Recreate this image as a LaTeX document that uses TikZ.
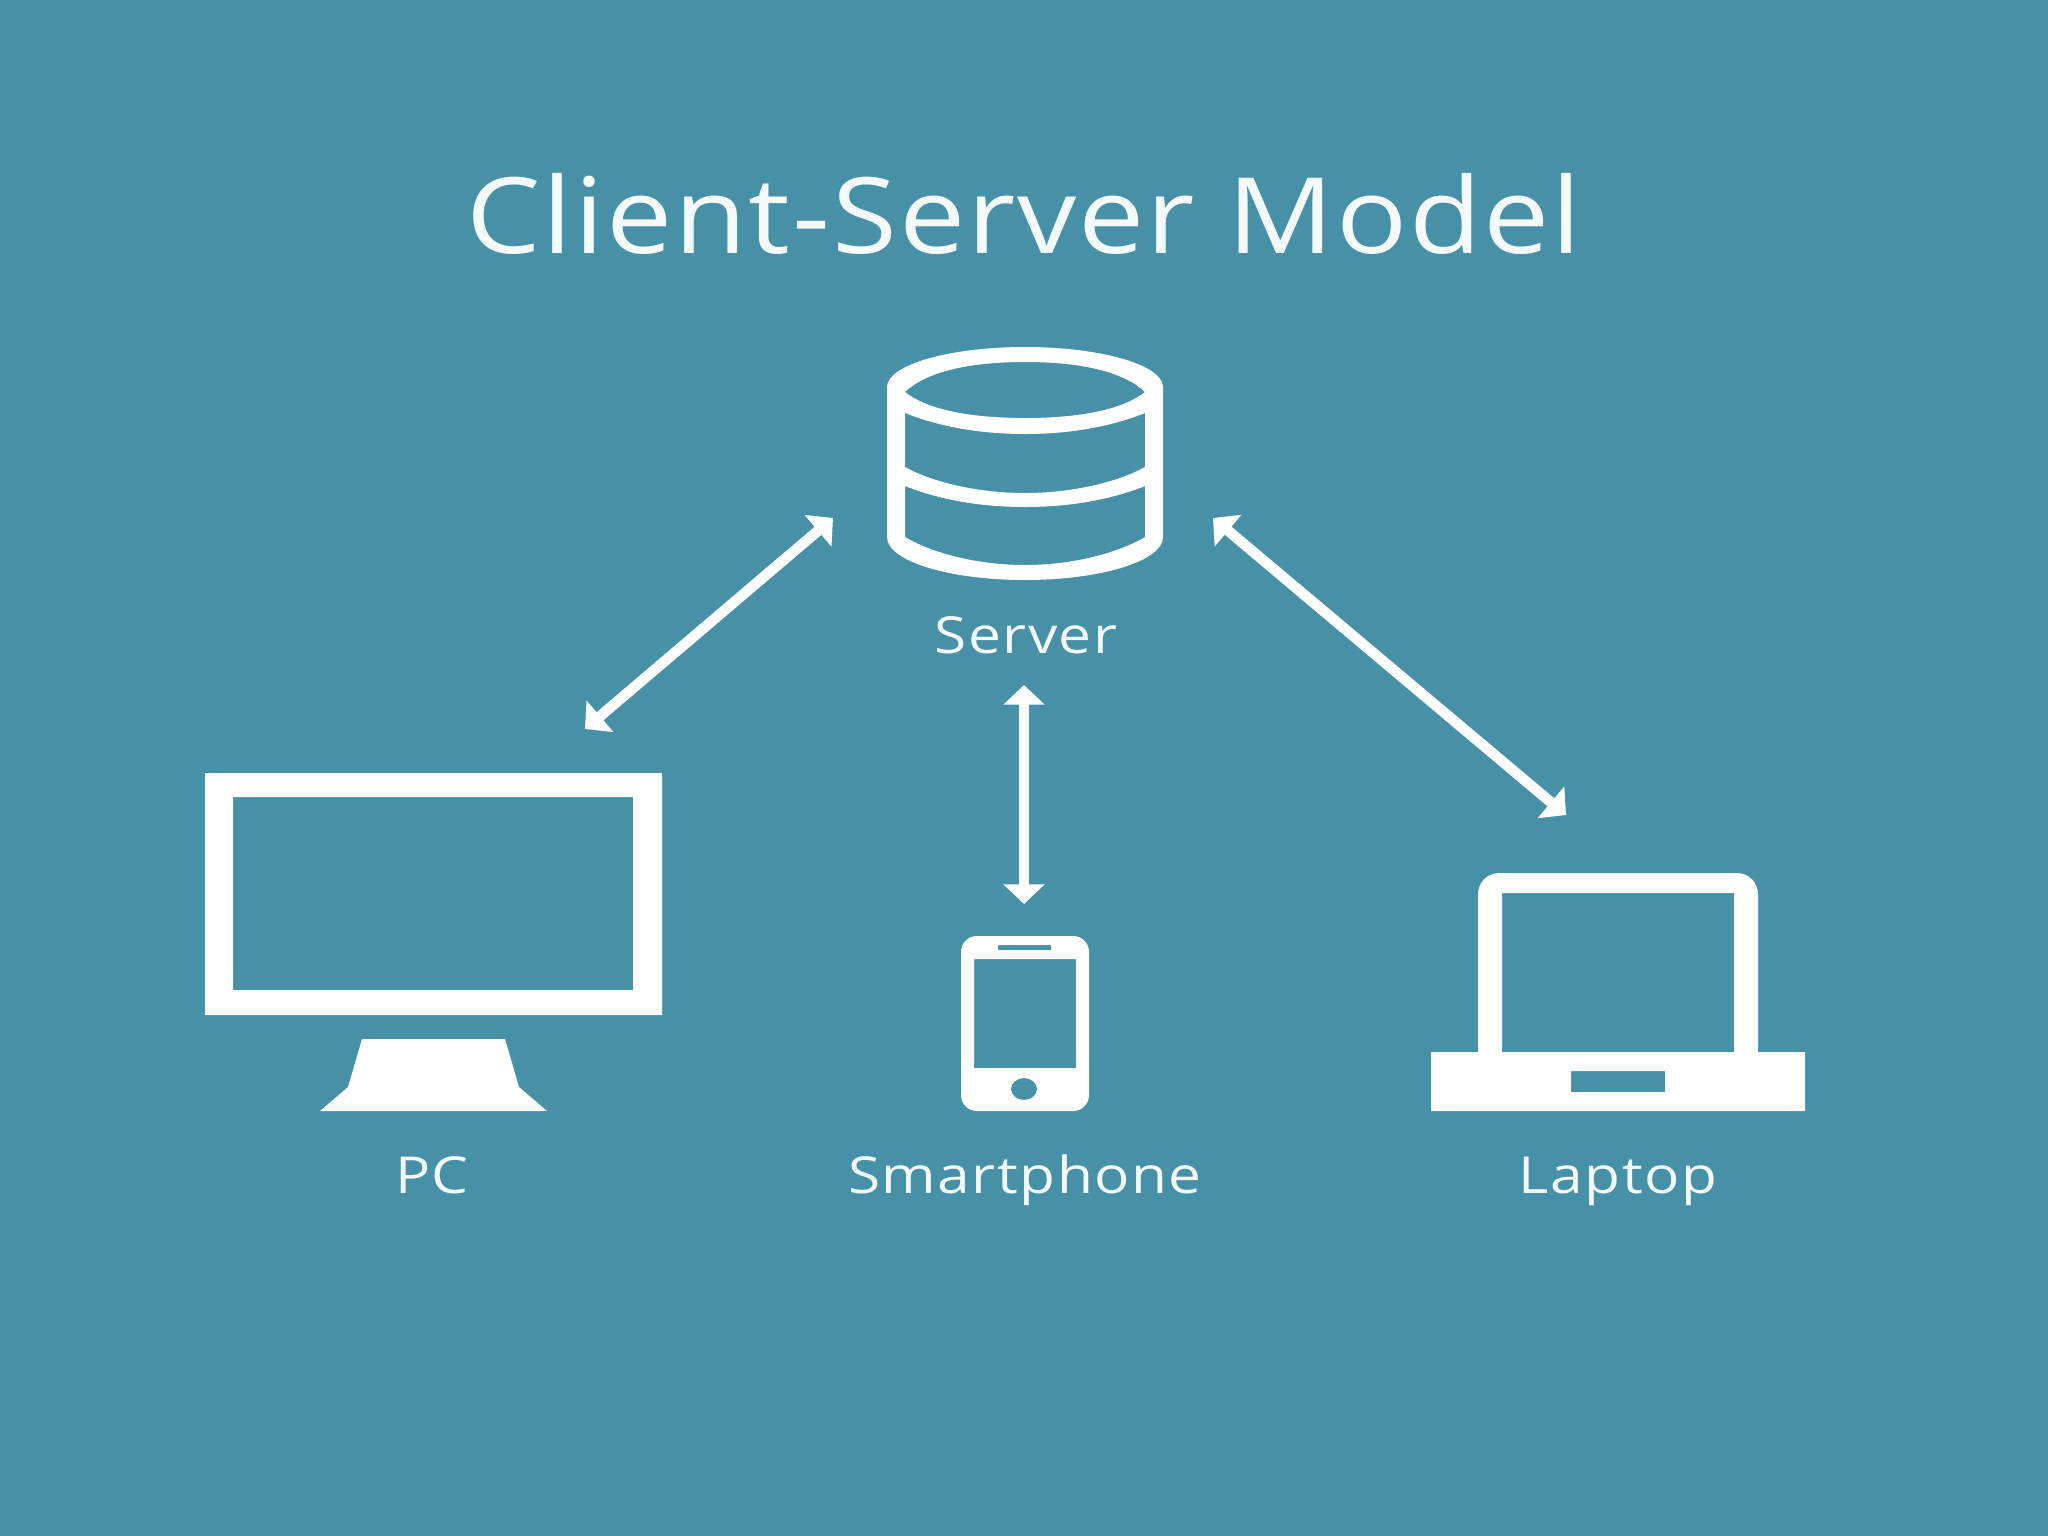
\documentclass[tikz,border=0pt]{standalone}
\usepackage{fontspec}
\setmainfont{Open Sans}
\newfontfamily\titlefont[FakeStretch=1.12,LetterSpace=1.8]{Open Sans}
\newfontfamily\labelfont[FakeStretch=1.15,LetterSpace=2.9]{Open Sans}
\usetikzlibrary{arrows.meta}
\definecolor{bgteal}{HTML}{4690A8}
\definecolor{textwhite}{HTML}{F4F9FA}
\tikzset{
  titlelabel/.style={anchor=base,inner sep=0pt,text=textwhite,font=\titlefont\fontsize{30}{36}\selectfont},
  devicelabel/.style={anchor=base,inner sep=0pt,text=textwhite,font=\labelfont\fontsize{14.5}{18}\selectfont},
  iconfill/.style={fill=white,even odd rule},
  link/.style={draw=white,line width=3pt,>={Triangle[length=5.6pt,width=11.5pt]},<->}
}
\begin{document}
\begin{tikzpicture}[x=0.01cm,y=-0.01cm]

\fill[bgteal] (0,0) rectangle (2048,1536); % background
\useasboundingbox (0,0) rectangle (2048,1536);

\node[titlelabel] (title) at (1024,253) {Client-Server Model}; % heading

% server
\path[iconfill] (887,387) .. controls (887,365) and (949,347) .. (1025,347) .. controls (1101,347) and (1163,365) .. (1163,387)
  --(1163,537) .. controls (1163,561) and (1101,580) .. (1025,580) .. controls (949,580) and (887,561) .. (887,537)--cycle
  (905,392) .. controls (925,373) and (965,362) .. (1025,362) .. controls (1085,362) and (1125,373) .. (1145,392)
  .. controls (1125,408) and (1085,418) .. (1025,418) .. controls (965,418) and (925,408) .. (905,392)--cycle
  (905,413) .. controls (935,425) and (975,434) .. (1025,434) .. controls (1075,434) and (1115,425) .. (1145,413)
  --(1145,467) .. controls (1120,481) and (1075,493) .. (1025,493) .. controls (975,493) and (930,481) .. (905,467)--cycle
  (905,486) .. controls (935,498) and (975,507) .. (1025,507) .. controls (1075,507) and (1115,498) .. (1145,486)
  --(1145,537) .. controls (1120,552) and (1075,565) .. (1025,565) .. controls (975,565) and (930,552) .. (905,537)--cycle;
\node[devicelabel] (server) at (1026,653) {Server};

% pc
\path[iconfill] (205,773) rectangle (662,1015) (233,797) rectangle (633,990);
\path[iconfill] (362,1039)--(505,1039)--(519,1087)--(547,1111)--(320,1111)--(348,1087)--cycle;
\node[devicelabel] (pc) at (432,1193) {PC};

% smartphone
\path[iconfill] [rounded corners=4.5pt] (961,936) rectangle (1089,1111) [sharp corners]
  (974,959) rectangle (1076,1068) (998,945) rectangle (1051,950)
  (1024,1089) ellipse [x radius=13,y radius=11];
\node[devicelabel] (phone) at (1025,1193) {Smartphone};

% laptop
\path[iconfill] (1431,1052)--(1478,1052) [rounded corners=6pt] --(1478,873)--(1758,873) [sharp corners] --(1758,1052)--(1805,1052)--(1805,1111)--(1431,1111)--cycle
  (1502,893) rectangle (1734,1052) (1571,1071) rectangle (1665,1092);
\node[devicelabel] (laptop) at (1618,1193) {Laptop};

% arrow ends
\coordinate (serverwest) at (833,518);
\coordinate (servereast) at (1213,518);
\coordinate (serversouth) at (1024,685);
\coordinate (pcnorth) at (585,729);
\coordinate (phonenorth) at (1024,904);
\coordinate (laptopnorth) at (1566,815);

\draw[link] (pcnorth)--(serverwest);
\draw[link] (phonenorth)--(serversouth);
\draw[link] (laptopnorth)--(servereast);

\end{tikzpicture}
\end{document}
